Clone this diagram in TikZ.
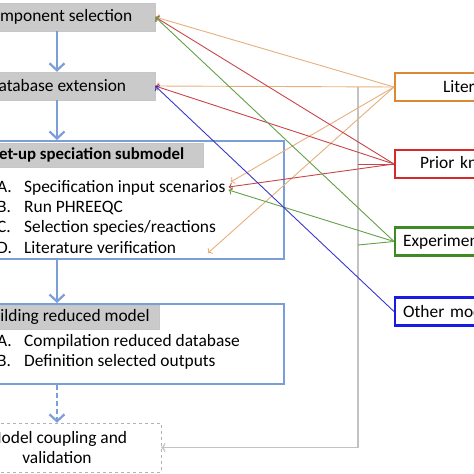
\documentclass[tikz,border=0pt]{standalone}
\usepackage{fontspec}
\setmainfont{Carlito}
\usetikzlibrary{arrows,arrows.meta,positioning}

\definecolor{flowblue}{HTML}{7B9ED9}
\definecolor{headgray}{HTML}{CACACA}
\definecolor{litorange}{HTML}{D98A32}
\definecolor{litline}{HTML}{E6B07C}
\definecolor{priorred}{HTML}{D42A2A}
\definecolor{priorline}{HTML}{C8454A}
\definecolor{expgreen}{HTML}{3D8B22}
\definecolor{expline}{HTML}{62A04A}
\definecolor{othblue}{HTML}{1A1AE6}
\definecolor{othline}{HTML}{3838CC}
\definecolor{busgray}{HTML}{C2C2C2}

\tikzset{
 stepgray/.style={fill=headgray, draw=gray!45, minimum width=196pt, minimum height=28pt, inner sep=0pt},
 stage/.style={draw=flowblue, line width=2pt, anchor=north west, inner sep=0pt},
 head/.style={fill=headgray, draw=gray!45, anchor=north west, minimum height=24pt, inner sep=0pt},
 item/.style={anchor=west, inner sep=0pt},
 source/.style={draw=#1, line width=2.2pt, anchor=west, text width=150pt, align=left, minimum height=28pt, fill=white},
 flow/.style={-{Straight Barb[length=7pt,width=15pt]}, draw=flowblue, line width=2.2pt},
 link/.style={->, draw=#1, line width=0.9pt},
}
\newcommand{\itemlbl}[1]{\makebox[27pt][l]{#1}}

\begin{document}
\begin{tikzpicture}[x=1pt, y=-1pt, font=\fontsize{17.4}{20}\selectfont]
 \useasboundingbox (0,0) rectangle (474,474);
 \clip (0,0) rectangle (474,474);

 % left column
 \node[stepgray] (comp) at (57,17) {Component selection};
 \node[stepgray] (dbext) at (57,86) {Database extension};

 \node[stage, minimum width=313pt, minimum height=118pt] (setup) at (-30,140) {};
 \node[head, minimum width=231pt] (setuphead) at (-28,143) {\fontsize{16.8}{20}\bfseries Set-up speciation submodel};
 \node[item] (scenA) at (-3,188) {\itemlbl{A.}Specification input scenarios};
 \node[item] (scenB) at (-3,208) {\itemlbl{B.}Run PHREEQC};
 \node[item] (scenC) at (-3,228) {\itemlbl{C.}Selection species/reactions};
 \node[item] (scenD) at (-3,248) {\itemlbl{D.}Literature verification};

 \node[stage, minimum width=313pt, minimum height=80pt] (build) at (-30,303) {};
 \node[head, minimum width=187pt] (buildhead) at (-28,305) {Building reduced model};
 \node[item] (buildA) at (-3,342) {\itemlbl{A.}Compilation reduced database};
 \node[item] (buildB) at (-3,362) {\itemlbl{B.}Definition selected outputs};

 \node[draw=gray!60, dashed, minimum width=208pt, minimum height=49pt, align=center] (couple) at (57,447.5) {Model coupling and\\validation};

 \draw[flow] (comp) -- (dbext);
 \draw[flow] (dbext) -- (dbext |- setup.north);
 \draw[flow] (dbext |- setup.south) -- (dbext |- build.north);
 \draw[flow, dash pattern=on 5pt off 3pt] (dbext |- build.south) -- (couple);

 % sources
 \node[source=litorange, inner xsep=48pt] (lit) at (394,87) {Literature};
 \node[source=priorred, inner xsep=25pt] (prior) at (394,164) {Prior knowledge};
 \node[source=expgreen, inner xsep=8pt] (expt) at (394,241.5) {Experimental data};
 \node[source=othblue, inner xsep=8pt] (other) at (394,311.5) {Other models};

 \coordinate (busTop) at (358,87);
 \coordinate (busPrior) at (358,164);
 \coordinate (busExp) at (358,245);
 \coordinate (verif) at (208,253);

 % feedback to coupling
 \draw[->, busgray, line width=1.2pt] (busTop) -- (busTop |- couple.east) -- (couple.east);
 \draw[priorline, line width=0.9pt] (prior.west) -- (busPrior);
 \draw[expline, line width=0.9pt] (expt.west) -- (busExp);

 \draw[link=litline] (lit.west) -- (comp.east);
 \draw[link=litline] (lit.west) -- (dbext.east);
 \draw[link=litline] (lit.west) -- ([xshift=5pt,yshift=6pt]scenA.east);
 \draw[link=litline] (lit.west) -- (verif);
 \draw[link=priorline] (prior.west) -- (comp.east);
 \draw[link=priorline] (prior.west) -- (dbext.east);
 \draw[link=priorline] (prior.west) -- ([xshift=3pt,yshift=1pt]scenA.east);
 \draw[link=expline] (expt.west) -- (comp.east);
 \draw[link=expline] (expt.west) -- ([xshift=3pt,yshift=-2pt]scenA.east);
 \draw[link=othline] (other.west) -- (dbext.east);
\end{tikzpicture}
\end{document}
